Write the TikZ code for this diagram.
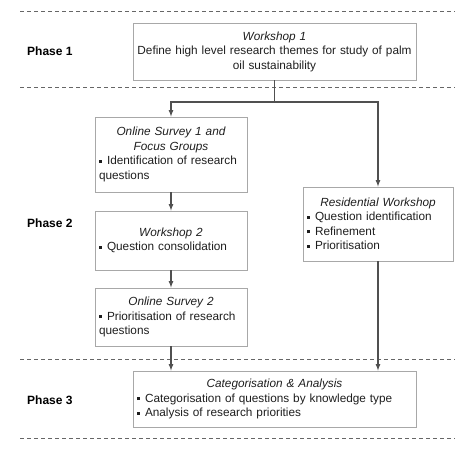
\documentclass[tikz,border=0pt]{standalone}
\usepackage{fontspec}
\setmainfont{Liberation Sans}
\usetikzlibrary{arrows}
\definecolor{boxgray}{HTML}{A8A8A8}
\definecolor{linegray}{HTML}{505050}
\definecolor{dashgray}{HTML}{666666}
\definecolor{txtgray}{HTML}{1E1E1E}
\newcommand{\sqbul}{\rule[2pt]{3pt}{3pt}}
\newcommand{\bitem}[1]{\par\raggedright\hangindent=8pt\hangafter=1\noindent\makebox[8pt][l]{\sqbul}#1}
\newcommand{\btitle}[1]{{\centering\itshape #1\par}}

\begin{document}
\begin{tikzpicture}[x=1pt,y=-1pt]
		
		\tikzstyle{every node}=[font=\fontsize{11.8}{14.5}\selectfont, text=txtgray]
		\tikzstyle{stage}=[draw=boxgray, line width=0.9pt, inner xsep=4pt, inner ysep=3pt]
		\tikzstyle{phase}=[font=\fontsize{12}{14.5}\selectfont\bfseries, text=black, anchor=west, inner sep=0pt]
		\tikzstyle{sep}=[dashgray, line width=1pt, dash pattern=on 4pt off 3pt]
		\tikzstyle{flow}=[-latex, linegray, line width=1.2pt]
		
		\useasboundingbox (0,0) rectangle (474,454);
		
		%\draw[style=help lines, step=10, color=gray] (0,0) grid (474,454);
		\foreach \y in {12,88,360,438}
			\draw[sep] (20,\y) -- (455,\y);
		
		\node[phase] (p1) at (27,51) {Phase 1};
		\node[phase] (p2) at (27,223) {Phase 2};
		\node[phase] (p3) at (27,400) {Phase 3};
		
		\node[stage, inner xsep=0.5pt, text width=282pt, minimum height=57pt, align=center] (ws1) at (274.5,51.5)
			{\textit{Workshop 1}\\Define high level research themes for study of palm\\oil sustainability};
		
		\node[stage, text width=144pt, minimum height=75pt] (os1) at (171,154.5)
			{\btitle{Online Survey 1 and\\Focus Groups}\bitem{Identification of research questions}};
		
		\node[stage, text width=144pt, minimum height=59pt] (ws2) at (171,240.5)
			{\btitle{Workshop 2}\bitem{Question consolidation}};
		
		\node[stage, text width=144pt, minimum height=58pt] (os2) at (171,317)
			{\btitle{Online Survey 2}\bitem{Prioritisation of research questions}};
		
		\node[stage, text width=142pt, minimum height=74pt] (rw) at (378,224)
			{\btitle{Residential Workshop}\bitem{Question identification}\bitem{Refinement}\bitem{Prioritisation}};
		
		\node[stage, text width=275pt, minimum height=56pt] (ca) at (274.5,399)
			{\btitle{Categorisation \& Analysis}\bitem{Categorisation of questions by knowledge type}\bitem{Analysis of research priorities}};
		
		\coordinate (fork) at (274.5,102);
		\draw[linegray, line width=1.2pt] (ws1.south) -- (fork);
		\draw[flow] (fork) -| (os1.north);
		\draw[flow] (fork) -| (rw.north);
		
		\draw[flow] (os1) -- (ws2);
		\draw[flow] (ws2) -- (os2);
		\draw[flow] (os2.south) -- (os2.south |- ca.north);
		\draw[flow] (rw.south) -- (rw.south |- ca.north);
		
\end{tikzpicture}
\end{document}
